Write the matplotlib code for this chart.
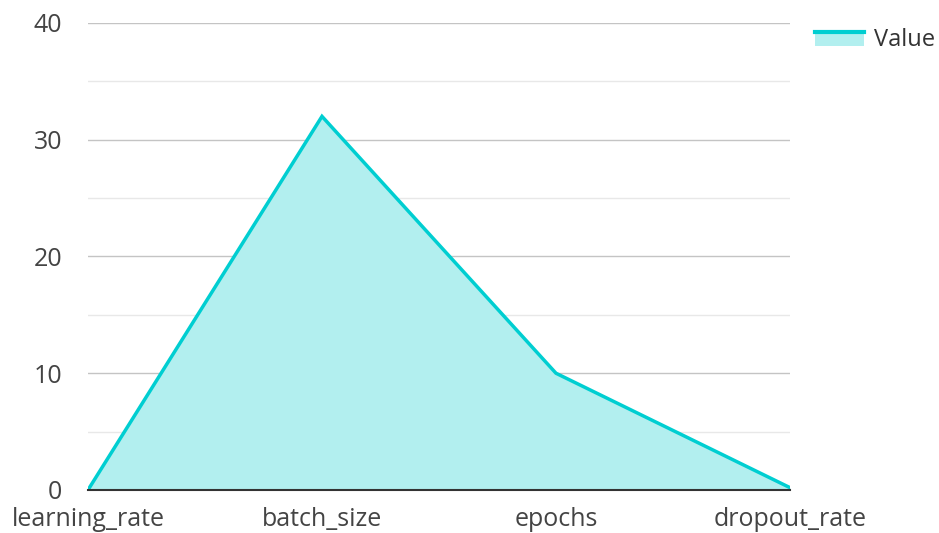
import matplotlib
matplotlib.use("Agg")
import matplotlib.pyplot as plt
from matplotlib.legend_handler import HandlerBase
from matplotlib.patches import Rectangle
from matplotlib.lines import Line2D

plt.rcParams['font.family'] = ['Open Sans', 'DejaVu Sans']

# Hyperparameter values
params = ['learning_rate', 'batch_size', 'epochs', 'dropout_rate']
values = [0.001, 32, 10, 0.2]

LINE = '#00CED1'
FILL = '#B2EFEF'


class AreaHandler(HandlerBase):
    """Legend key: filled box with the line across its top."""
    def create_artists(self, legend, orig, xd, yd, w, h, fontsize, trans):
        box = Rectangle((xd, yd), w, h * 0.85, facecolor=FILL, edgecolor='none', transform=trans)
        ln = Line2D([xd, xd + w], [yd + h * 0.85, yd + h * 0.85], color=LINE, lw=3, transform=trans)
        return [box, ln]


fig = plt.figure(figsize=(9.39, 5.33), dpi=100)
ax = fig.add_axes([0.0937, 0.0807, 0.7476, 0.8762])

x = range(len(params))
ax.fill_between(x, values, 0, color=FILL, lw=0, zorder=2)
ax.plot(x, values, color=LINE, lw=2.5, zorder=3, solid_joinstyle='miter')

ax.set_xlim(0, len(params) - 1)
ax.set_ylim(0, 40)
ax.set_yticks([0, 10, 20, 30, 40])
ax.set_yticks([5, 15, 25, 35], minor=True)
ax.set_xticks(list(x))
ax.set_xticklabels(params)

ax.grid(axis='y', which='major', color='#c4c4c4', lw=1, zorder=1)
ax.grid(axis='y', which='minor', color='#e8e8e8', lw=1, zorder=1)
ax.grid(axis='x', visible=False)

for side in ['top', 'right', 'left']:
    ax.spines[side].set_visible(False)
ax.spines['bottom'].set_color('#333333')
ax.spines['bottom'].set_linewidth(1.5)
ax.spines['bottom'].set_zorder(4)

ax.tick_params(axis='both', which='both', length=0, labelsize=18, colors='#444444')
ax.tick_params(axis='y', pad=18.5)
ax.tick_params(axis='x', pad=12)
for lbl in ax.get_yticklabels():
    lbl.set_horizontalalignment('right')

handle = Rectangle((0, 0), 1, 1)
leg = ax.legend([handle], ['Value'], handler_map={Rectangle: AreaHandler()},
                loc='upper left', bbox_to_anchor=(1.022, 1.009), frameon=False,
                fontsize=17, handlelength=2.1, handleheight=0.7, handletextpad=0.42,
                borderaxespad=0)
for t in leg.get_texts():
    t.set_color('#333333')

fig.savefig('out.png', dpi=100)
